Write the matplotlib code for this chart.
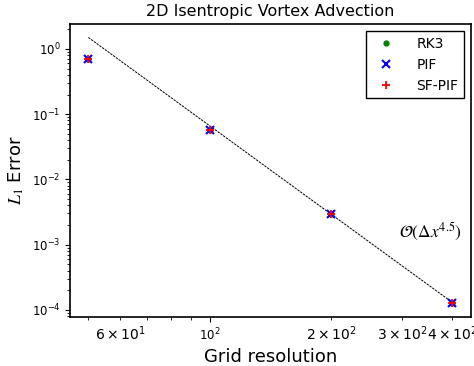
import numpy as np
import matplotlib
matplotlib.use('Agg')
import matplotlib.pyplot as plt

# grid resolution and L1 errors
grid = [50, 100, 200, 400]
err_rk3 = [0.70, 0.0575, 0.0029, 1.26e-4]
err_pif = [0.70, 0.0575, 0.0029, 1.26e-4]
err_sfpif = [0.70, 0.0575, 0.0029, 1.26e-4]

# reference slope line
ref_start = 1.5
ref_order = 4.5

fig = plt.figure(figsize=(4.74, 3.66), dpi=100)
ax = fig.add_axes([0.148, 0.135, 0.845, 0.799])

g = np.array(grid, dtype=float)
ax.loglog(g, ref_start * (g / g[0]) ** (-ref_order), 'k--', lw=0.7, dashes=(2.5, 1))
ax.loglog(grid, err_rk3, 'o', color='green', ms=3.5, label='RK3')
ax.loglog(grid, err_pif, 'x', color='blue', ms=6, mew=1.5, label='PIF')
ax.loglog(grid, err_sfpif, '+', color='red', ms=6, mew=1.3, label='SF-PIF')

ax.text(352, 1.55e-3, r'$\mathcal{O}(\Delta x^{4.5})$', fontsize=12.5,
        math_fontfamily='stix', ha='center', va='center')

ax.set_title('2D Isentropic Vortex Advection', fontsize=11.5)
ax.set_xlabel('Grid resolution', fontsize=13)
ax.set_ylabel(r'$L_1$ Error', fontsize=13, math_fontfamily='stix')
ax.tick_params(labelsize=8.5)

leg = ax.legend(loc='upper right', numpoints=1, fontsize=10, fancybox=False,
                edgecolor='black', framealpha=1, handletextpad=1.2)
leg.get_frame().set_linewidth(1.0)

for s in ax.spines.values():
    s.set_linewidth(1.2)

fig.savefig('out.png', dpi=100)
